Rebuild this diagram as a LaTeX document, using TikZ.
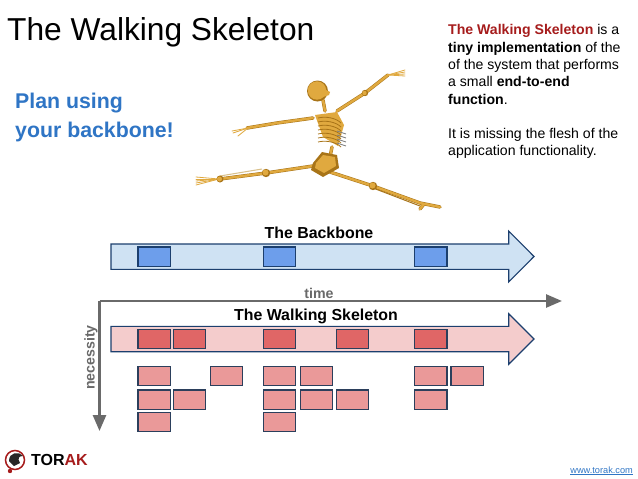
\documentclass[tikz,border=0pt]{standalone}
\usepackage{fontspec}
\setmainfont{Liberation Sans}
\usetikzlibrary{arrows.meta}
\definecolor{barblue}{HTML}{CFE2F3}
\definecolor{boxblue}{HTML}{6D9EEB}
\definecolor{barred}{HTML}{F4CCCC}
\definecolor{boxred}{HTML}{E06666}
\definecolor{boxpale}{HTML}{EA9999}
\definecolor{edgeblue}{HTML}{1C3F6E}
\definecolor{edgedark}{HTML}{2B3F5C}
\definecolor{axisgrey}{HTML}{6A6A6A}
\definecolor{planblue}{HTML}{2F75C5}
\definecolor{darkred}{HTML}{A61C1C}
\definecolor{bone}{HTML}{E0A93F}
\definecolor{bonedark}{HTML}{A87418}
\definecolor{bonepale}{HTML}{D9C08A}
\tikzset{
	bluebar/.style={draw=edgeblue,fill=barblue,line width=1.1pt},
	redbar/.style={draw=edgeblue,fill=barred,line width=1.1pt},
	bluebox/.style={draw=edgeblue,fill=boxblue,line width=1.1pt},
	redbox/.style={draw=edgedark,fill=boxred,line width=1.1pt},
	palebox/.style={draw=edgedark,fill=boxpale,line width=1.1pt},
	axisline/.style={draw=axisgrey,line width=2.6pt,-{Triangle[length=16pt,width=13pt]}},
	boneout/.style={draw=bonedark,line width=3.4pt,line cap=round,line join=round},
	bonein/.style={draw=bone,line width=2.4pt,line cap=round,line join=round},
	finger/.style={draw=bone,line width=0.8pt,line cap=round},
}
\begin{document}
\begin{tikzpicture}[x=1pt,y=-1pt]
	\useasboundingbox (0,0) rectangle (638,479);
	\fill[white] (0,0) rectangle (638,479);
	% headings
	\node[anchor=base west,inner sep=0pt] (title) at (7,40) {\fontsize{31.7}{34}\selectfont The Walking Skeleton};
	\node[anchor=north west,inner sep=0pt,align=left,text=planblue,font=\fontsize{21.3}{29}\selectfont\bfseries] (plan) at (15,92.5) {Plan using\\your backbone!};
	\node[anchor=north west,inner sep=0pt,align=left,font=\fontsize{14.1}{17.3}\selectfont] (notes) at (448,24.5) {%
		\textcolor{darkred}{\textbf{The Walking Skeleton}} is a\\
		\textbf{tiny implementation} of the\\
		of the system that performs\\
		a small \textbf{end-to-end}\\
		\textbf{function}.\\[17pt]
		It is missing the flesh of the\\
		application functionality.};
	% skeleton
	\foreach \st in {boneout,bonein}{
		\draw[\st] (337,111) -- (365,93) -- (388,75);
		\draw[\st] (313,118) -- (277,123) -- (247,128);
		\draw[\st] (323,100) -- (325,111);
		\draw[\st] (332,147) -- (330,157);
		\draw[\st] (313,166) -- (266,173) -- (220,179);
		\draw[\st] (330,172) -- (373,186) -- (420,203) -- (440,207) (424,204) -- (420,209);
	}
	\foreach \hy in {70,72,74,76}
		\draw[finger] (388,75) -- (405,\hy);
	\foreach \hx/\hy in {232/131,233/133,238/136}
		\draw[finger] (248,128) -- (\hx,\hy);
	\foreach \fy in {177,179,181,183,185}
		\draw[finger] (219,179) -- (196,\fy);
	\draw[bonepale,line width=1pt] (262,169) -- (220,176);
	\draw[bonedark,line width=1pt] (373,188) -- (420,206);
	\fill[bonedark] (266,173) circle (4.2) (373,186) circle (4.2) (365,93) circle (3.2) (220,179) circle (3.5);
	\fill[bone] (265.5,172.5) circle (3) (372.5,185.5) circle (3) (364.5,93) circle (2.2) (219.5,179) circle (2.5);
	% ribs and pelvis
	\fill[bone] (315,115) -- (337,112) -- (344,125) -- (338,146) -- (323,137) -- cycle;
	\foreach \ry in {118,122,...,142}
		\draw[bonedark,line width=0.8pt] (318,\ry) .. controls (326,\ry-2) and (336,\ry) .. (341,\ry+5);
	\foreach \ry in {131,135,...,143}
		\draw[gray,line width=0.8pt] (337,\ry) -- (346,\ry+3);
	\fill[bonedark] (313,163) -- (322,152) -- (337,155) -- (339,168) -- (323,177) -- (311,170) -- cycle;
	\fill[bone] (316,163) -- (323,155) -- (335,157) -- (336,166) -- (324,173) -- (315,168) -- cycle;
	% skull
	\fill[bonedark] (317.5,91) circle (10.5);
	\fill[bone] (317,90.5) circle (9.2);
	\fill[bone] (322,88) -- (330,92) -- (329,95) -- (320,98) -- cycle;
	% backbone bar
	\node[font=\fontsize{15.9}{17}\selectfont\bfseries,inner sep=0pt] (backbone) at (319,232.5) {The Backbone};
	\draw[bluebar] (111,244) -- (508.7,244) -- (508.7,231) -- (534,256.5) -- (508.7,282) -- (508.7,269.3) -- (111,269.3) -- cycle;
	\foreach \x in {138,263.3,414.5}
		\draw[bluebox] (\x,247) rectangle ++(32.5,19.2);
	% time and necessity
	\coordinate (corner) at (99.5,301);
	\coordinate (timeend) at (562,301);
	\coordinate (necend) at (99.5,431);
	\draw[axisline] (corner) -- (timeend);
	\draw[axisline] (corner) -- (necend);
	\node[font=\fontsize{14.2}{16}\selectfont\bfseries,text=axisgrey,inner sep=0pt] (time) at (319,293) {time};
	\node[font=\fontsize{14.2}{16}\selectfont\bfseries,text=axisgrey,inner sep=0pt,rotate=90] (necessity) at (91,357.5) {necessity};
	% skeleton bar
	\node[font=\fontsize{15.9}{17}\selectfont\bfseries,inner sep=0pt] (walking) at (316,316.5) {The Walking Skeleton};
	\draw[redbar] (111,326.3) -- (508.7,326.3) -- (508.7,313.7) -- (534,339) -- (508.7,364.3) -- (508.7,351.7) -- (111,351.7) -- cycle;
	\foreach \x in {138,173.3,263.3,336.2,414.5}
		\draw[redbox] (\x,329.5) rectangle ++(32.5,19.2);
	\foreach \x in {138,210.3,263.3,300.3,414.5,451}
		\draw[palebox] (\x,366.5) rectangle ++(32.5,19.2);
	\foreach \x in {138,173.3,263.3,300.3,336.2,414.5}
		\draw[palebox] (\x,390) rectangle ++(32.5,19.2);
	\foreach \x in {138,263.3}
		\draw[palebox] (\x,412.7) rectangle ++(32.5,19.2);
	% logo
	\draw[darkred,line width=1.5pt] (15,460) circle (9.5);
	\fill[black!85] (9,461) .. controls (9,452) and (19,451) .. (23,456) .. controls (19,456) and (17,458) .. (20,463) -- (14,466) -- cycle;
	\fill[darkred] (10,471) circle (2.2);
	\node[anchor=base west,inner sep=0pt,font=\fontsize{16}{18}\selectfont\bfseries] (torak) at (31,465.5) {TOR\textcolor{darkred}{AK}};
	\node[anchor=base east,inner sep=0pt,text=planblue,font=\fontsize{9.2}{11}\selectfont] (site) at (633,473) {\underline{www.torak.com}};
\end{tikzpicture}
\end{document}
